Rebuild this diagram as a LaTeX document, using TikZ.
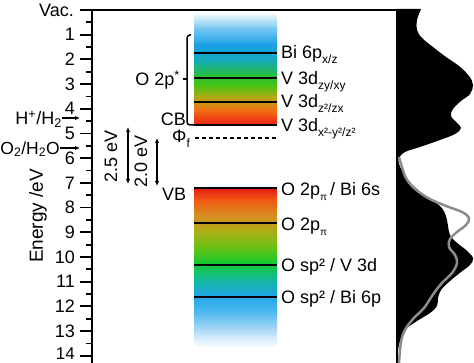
\documentclass[tikz,border=0pt]{standalone}
\usepackage{fontspec}
\setmainfont{Liberation Sans}
\usetikzlibrary{arrows.meta}
\definecolor{c1}{RGB}{120,200,242}
\definecolor{c2}{RGB}{25,160,230}
\definecolor{c3}{RGB}{20,172,185}
\definecolor{c4}{RGB}{40,188,60}
\definecolor{c5}{RGB}{70,195,20}
\definecolor{c6}{RGB}{175,170,20}
\definecolor{c7}{RGB}{240,110,20}
\definecolor{c8}{RGB}{238,30,20}
\definecolor{v1}{RGB}{230,30,20}
\definecolor{v2}{RGB}{240,90,20}
\definecolor{v3}{RGB}{215,140,30}
\definecolor{v4}{RGB}{170,175,20}
\definecolor{v5}{RGB}{100,195,20}
\definecolor{v6}{RGB}{20,200,50}
\definecolor{v7}{RGB}{20,185,160}
\definecolor{v8}{RGB}{30,165,230}
\definecolor{v9}{RGB}{80,185,240}
\definecolor{v10}{RGB}{175,218,246}
\definecolor{dosgray}{RGB}{140,140,140}
\newcommand\lsub[1]{\raisebox{-5pt}{\fontsize{12}{12}\selectfont #1}}
\begin{document}
\begin{tikzpicture}[x=1pt,y=-1pt,font=\fontsize{18}{20}\selectfont,
  tick/.style={line width=1.8pt},
  lvl/.style={line width=1.8pt},
  lab/.style={anchor=base west,inner sep=0pt},
  labe/.style={anchor=base east,inner sep=0pt},
  arr/.style={-{Latex[length=5pt,width=4.5pt]},line width=1.1pt},
  dbl/.style={{Latex[length=5pt,width=4.5pt]}-{Latex[length=5pt,width=4.5pt]},line width=1.1pt}]
\useasboundingbox (0,0) rectangle (474,363);
% gradient bars
\foreach \ya/\yb/\ca/\cb in {12/28/white/c1,28/45/c1/c2,45/60/c2/c3,60/75/c3/c4,75/85/c4/c5,85/97/c5/c6,97/110/c6/c7,110/125/c7/c8}
  \shade[top color=\ca,bottom color=\cb] (194,\ya) rectangle (277,\yb+0.6);
\foreach \ya/\yb/\ca/\cb in {188/200/v1/v2,200/215/v2/v3,215/232/v3/v4,232/248/v4/v5,248/263/v5/v6,263/280/v6/v7,280/295/v7/v8,295/312/v8/v9,312/330/v9/v10,330/347/v10/white}
  \shade[top color=\ca,bottom color=\cb] (194,\ya) rectangle (277,\yb+0.6);
% level lines
\foreach \y in {53,78,102,125,188,223,265,297}
  \draw[lvl] (194,\y) -- (277,\y);
\draw[line width=1.4pt,dash pattern=on 4pt off 3pt] (195,138) -- (277,138);
% axis
\draw[tick] (80,10) -- (397,10);
\draw[tick] (92,9.1) -- (92,363);
\foreach \e in {1,...,14} \draw[tick] (80,{10+24.7*\e}) -- (92,{10+24.7*\e});
\foreach \e in {0,...,13} \draw[tick] (86,{10+24.7*(\e+0.5)}) -- (92,{10+24.7*(\e+0.5)});
\node[anchor=east,inner sep=0pt] (t0) at (74,10) {Vac.};
\foreach \e in {1,...,13} \node[anchor=east,inner sep=0pt] (t\e) at (75,{10+24.7*\e}) {\e};
\node[anchor=base east,inner sep=0pt,font=\fontsize{17}{20}\selectfont] (t14) at (75,359.5) {14};
\node[rotate=90,font=\fontsize{19}{20}\selectfont] (elab) at (38,216) {Energy /eV};
% redox levels
\node[labe] (hh) at (62,124.4) {H\textsuperscript{+}/H\textsubscript{2}};
\coordinate (hht) at (80,118);
\draw[arr] (hh.east |- hht) -- (hht);
\node[labe,font=\fontsize{17.5}{20}\selectfont] (oo) at (60,154.4) {O\textsubscript{2}/H\textsubscript{2}O};
\coordinate (oot) at (80,148);
\draw[arr] (oo.east |- oot) -- (oot);
% gaps
\coordinate (a1t) at (128,127); \coordinate (a1b) at (128,184);
\draw[dbl] (a1t) -- (a1b);
\node[rotate=90,inner sep=0pt] (g1) at (111,156) {2.5 eV};
\coordinate (a2t) at (157,138); \coordinate (a2b) at (157,186);
\draw[dbl] (a2t) -- (a2b);
\node[rotate=90,inner sep=0pt] (g2) at (141,161.5) {2.0 eV};
% brace
\draw[line width=1.5pt,rounded corners=3pt] (191,35) -- (187,35) -- (187,125) -- (194,125);
\coordinate (brt) at (183,79); \coordinate (brm) at (187,79);
\draw[line width=1.5pt] (brt) -- (brm);
\node[labe] (o2p) at (180,85.5) {O 2p\textsuperscript{*}};
\node[labe] (cb) at (186,126) {CB};
\node[lab] (phi) at (172,142.5) {Φ\lsub{f}};
\node[lab] (vb) at (162,201) {VB};
% right labels
\node[lab] (l1) at (281,58.4) {Bi 6p\lsub{x/z}};
\node[lab] (l2) at (281,84.4) {V 3d\lsub{zy/xy}};
\node[lab] (l3) at (281,108) {V 3d\lsub{z²/zx}};
\node[lab] (l4) at (281,131.5) {V 3d\lsub{x²-y²/z²}};
\node[lab] (l5) at (281,196) {O 2p\lsub{\fontsize{10}{10}\selectfont π}\,/ Bi 6s};
\node[lab] (l6) at (281,230.5) {O 2p\lsub{\fontsize{10}{10}\selectfont π}};
\node[lab] (l7) at (281,272) {O sp² / V 3d};
\node[lab] (l8) at (281,303.5) {O sp² / Bi 6p};
% DOS
\fill[black] (397,9) -- plot[smooth,tension=0.6] coordinates {(421,9) (417,20) (417,30) (422,38) (433,47) (446,57) (459,66) (469,76) (473,85) (470,94) (461,101) (453,109) (451,116) (457,123) (461,128) (455,134) (440,140) (420,147) (405,152) (399,158) (399,164) (403,172) (409,181) (418,190) (430,199) (441,207) (446,216) (448,226) (450,235) (456,242) (466,250) (473,258) (470,265) (461,272) (450,281) (441,290) (438,298) (437,306) (430,313) (417,321) (406,329) (401,338) (398,350) (397,363)} -- cycle;
\draw[line width=1.5pt] (397,9) -- (397,363);
\draw[dosgray,line width=2.5pt] plot[smooth,tension=0.6] coordinates {(399,157) (402,167) (406,178) (414,188) (428,198) (446,206) (462,212) (469,218) (466,225) (457,232) (450,239) (449,247) (455,255) (457,263) (452,273) (441,284) (432,296) (424,308) (413,319) (405,330) (401,342) (399,363)};
\end{tikzpicture}
\end{document}
